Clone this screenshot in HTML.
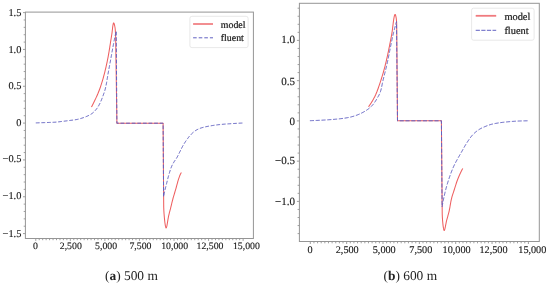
<!DOCTYPE html>
<html><head><meta charset="utf-8"><style>
html,body{margin:0;padding:0;background:#fff;width:550px;height:285px;overflow:hidden}
svg{display:block;filter:blur(0.3px)} text{font-family:"Liberation Serif",serif;text-rendering:geometricPrecision}
</style></head><body>
<svg width="550" height="285" viewBox="0 0 550 285">
<rect width="550" height="285" fill="#fff"/>
<clipPath id="ca"><rect x="25.4" y="12.1" width="228.0" height="226.4"/></clipPath>
<g clip-path="url(#ca)" fill="none" stroke-linejoin="round">
<path d="M91.40,107.10 L91.78,106.38 L92.16,105.66 L92.54,104.94 L92.91,104.22 L93.28,103.49 L93.65,102.77 L94.01,102.04 L94.37,101.31 L94.73,100.58 L95.08,99.85 L95.42,99.12 L95.77,98.39 L96.11,97.65 L96.44,96.91 L96.77,96.18 L97.10,95.44 L97.42,94.70 L97.73,93.95 L98.05,93.21 L98.35,92.47 L98.65,91.72 L98.95,90.97 L99.24,90.22 L99.53,89.47 L99.81,88.72 L100.08,87.97 L100.35,87.21 L100.61,86.46 L100.87,85.70 L101.12,84.94 L101.36,84.18 L101.61,83.42 L101.85,82.65 L102.08,81.89 L102.31,81.12 L102.54,80.35 L102.77,79.58 L102.99,78.80 L103.21,78.03 L103.43,77.25 L103.64,76.47 L103.85,75.69 L104.06,74.91 L104.27,74.12 L104.47,73.34 L104.67,72.56 L104.86,71.77 L105.06,70.98 L105.25,70.20 L105.44,69.41 L105.62,68.62 L105.81,67.83 L105.99,67.04 L106.17,66.25 L106.34,65.46 L106.52,64.67 L106.69,63.88 L106.86,63.09 L107.02,62.30 L107.19,61.52 L107.35,60.73 L107.51,59.94 L107.67,59.15 L107.83,58.36 L107.98,57.57 L108.13,56.78 L108.27,55.99 L108.42,55.19 L108.56,54.40 L108.70,53.61 L108.84,52.81 L108.97,52.02 L109.11,51.22 L109.24,50.43 L109.37,49.63 L109.50,48.83 L109.63,48.04 L109.75,47.24 L109.88,46.44 L110.01,45.64 L110.13,44.85 L110.26,44.05 L110.38,43.25 L110.51,42.45 L110.63,41.66 L110.76,40.86 L110.88,40.06 L111.01,39.26 L111.14,38.47 L111.26,37.67 L111.39,36.87 L111.52,36.08 L111.65,35.28 L111.78,34.46 L111.91,33.56 L112.04,32.59 L112.16,31.57 L112.29,30.52 L112.41,29.46 L112.53,28.41 L112.65,27.39 L112.78,26.43 L112.91,25.54 L113.04,24.75 L113.17,24.07 L113.31,23.53 L113.46,23.14 L113.61,22.93 L113.78,22.94 L113.97,23.28 L114.20,23.91 L114.44,24.75 L114.67,25.73 L114.88,26.76 L115.05,27.78 L115.17,28.71 L115.24,29.52 L115.30,30.31 L115.36,31.11 L115.42,31.91 L115.47,32.71 L115.51,33.51 L115.56,34.31 L115.59,35.12 L115.62,35.93 L115.65,36.74 L115.67,37.55 L115.69,38.36 L115.70,39.18 L115.70,40.00 L116.90,123.20 L163.10,123.20 L163.70,205.00 L163.70,205.82 L163.71,206.64 L163.73,207.46 L163.76,208.28 L163.79,209.10 L163.82,209.92 L163.86,210.73 L163.91,211.55 L163.96,212.36 L164.01,213.18 L164.07,213.99 L164.14,214.80 L164.20,215.61 L164.27,216.42 L164.34,217.23 L164.41,218.04 L164.49,218.85 L164.57,219.66 L164.65,220.49 L164.76,221.44 L164.88,222.47 L165.03,223.53 L165.19,224.58 L165.36,225.57 L165.54,226.44 L165.71,227.15 L165.89,227.65 L166.05,227.89 L166.21,227.85 L166.37,227.61 L166.53,227.20 L166.70,226.64 L166.86,225.95 L167.02,225.14 L167.19,224.24 L167.35,223.27 L167.52,222.25 L167.69,221.20 L167.86,220.14 L168.03,219.08 L168.21,218.06 L168.39,217.09 L168.57,216.18 L168.76,215.36 L168.95,214.57 L169.14,213.78 L169.34,212.99 L169.55,212.20 L169.76,211.41 L169.96,210.62 L170.17,209.83 L170.38,209.05 L170.58,208.26 L170.78,207.46 L170.98,206.67 L171.17,205.88 L171.36,205.09 L171.55,204.29 L171.73,203.50 L171.92,202.71 L172.12,201.91 L172.31,201.12 L172.51,200.33 L172.72,199.54 L172.93,198.76 L173.15,197.97 L173.37,197.19 L173.60,196.40 L173.83,195.62 L174.06,194.84 L174.29,194.06 L174.53,193.27 L174.76,192.49 L174.99,191.71 L175.23,190.93 L175.46,190.15 L175.68,189.36 L175.91,188.58 L176.13,187.79 L176.34,187.00 L176.56,186.21 L176.77,185.42 L176.98,184.63 L177.19,183.84 L177.41,183.05 L177.63,182.26 L177.85,181.47 L178.08,180.69 L178.32,179.91 L178.56,179.13 L178.81,178.36 L179.08,177.59 L179.35,176.83 L179.63,176.07 L179.94,175.32 L180.28,174.58 L180.64,173.85 L181.02,173.12 L181.40,172.40" stroke="#ee5f60" stroke-width="1.05"/>
<path d="M35.80,122.90 L36.60,122.88 L37.41,122.85 L38.21,122.83 L39.02,122.80 L39.82,122.78 L40.63,122.75 L41.43,122.72 L42.24,122.70 L43.04,122.67 L43.85,122.64 L44.65,122.61 L45.46,122.58 L46.26,122.56 L47.07,122.53 L47.87,122.50 L48.68,122.48 L49.48,122.45 L50.29,122.42 L51.09,122.39 L51.90,122.36 L52.70,122.32 L53.50,122.28 L54.31,122.24 L55.11,122.19 L55.91,122.14 L56.71,122.06 L57.51,121.98 L58.31,121.89 L59.11,121.80 L59.91,121.70 L60.71,121.59 L61.51,121.49 L62.31,121.40 L63.11,121.30 L63.91,121.21 L64.71,121.11 L65.51,121.01 L66.31,120.91 L67.11,120.81 L67.91,120.71 L68.71,120.60 L69.50,120.50 L70.30,120.40 L71.10,120.30 L71.91,120.20 L72.71,120.11 L73.51,120.00 L74.31,119.90 L75.10,119.78 L75.90,119.66 L76.69,119.52 L77.47,119.37 L78.25,119.19 L79.04,119.00 L79.82,118.78 L80.59,118.56 L81.37,118.32 L82.13,118.07 L82.90,117.81 L83.66,117.55 L84.42,117.29 L85.17,117.01 L85.92,116.71 L86.67,116.40 L87.41,116.07 L88.14,115.73 L88.86,115.37 L89.57,115.01 L90.28,114.62 L90.98,114.20 L91.66,113.76 L92.30,113.30 L92.92,112.80 L93.53,112.27 L94.11,111.71 L94.69,111.13 L95.24,110.52 L95.77,109.91 L96.28,109.29 L96.76,108.66 L97.22,108.01 L97.67,107.34 L98.11,106.66 L98.53,105.96 L98.93,105.25 L99.31,104.54 L99.68,103.83 L100.04,103.11 L100.38,102.39 L100.71,101.66 L101.04,100.92 L101.35,100.17 L101.65,99.42 L101.95,98.67 L102.24,97.92 L102.52,97.16 L102.80,96.41 L103.07,95.65 L103.35,94.89 L103.62,94.13 L103.89,93.37 L104.15,92.61 L104.40,91.84 L104.65,91.07 L104.88,90.30 L105.11,89.53 L105.31,88.75 L105.51,87.97 L105.69,87.19 L105.86,86.41 L106.02,85.63 L106.18,84.84 L106.33,84.05 L106.48,83.26 L106.62,82.47 L106.76,81.67 L106.89,80.88 L107.02,80.08 L107.15,79.28 L107.28,78.49 L107.41,77.69 L107.54,76.89 L107.67,76.10 L107.80,75.30 L107.93,74.50 L108.07,73.71 L108.22,72.92 L108.36,72.13 L108.50,71.33 L108.65,70.54 L108.80,69.75 L108.94,68.96 L109.09,68.17 L109.23,67.37 L109.38,66.58 L109.53,65.79 L109.67,65.00 L109.82,64.21 L109.97,63.42 L110.11,62.62 L110.26,61.83 L110.41,61.04 L110.55,60.25 L110.70,59.46 L110.85,58.67 L110.99,57.87 L111.13,57.08 L111.28,56.29 L111.42,55.50 L111.56,54.70 L111.71,53.91 L111.85,53.12 L111.99,52.33 L112.14,51.53 L112.28,50.74 L112.42,49.95 L112.57,49.16 L112.71,48.37 L112.86,47.57 L113.00,46.78 L113.15,45.99 L113.30,45.20 L113.45,44.41 L113.60,43.62 L113.75,42.83 L113.90,42.03 L114.05,41.24 L114.21,40.45 L114.37,39.67 L114.53,38.88 L114.69,38.09 L114.85,37.30 L115.01,36.51 L115.18,35.72 L115.35,34.93 L115.52,34.15 L115.69,33.36 L115.86,32.57 L116.03,31.79 L116.20,31.00 L116.90,123.20 L163.10,123.20 L163.60,196.80 L163.73,196.00 L163.87,195.21 L164.02,194.42 L164.17,193.62 L164.33,192.83 L164.50,192.04 L164.67,191.26 L164.85,190.47 L165.04,189.69 L165.24,188.90 L165.44,188.12 L165.63,187.34 L165.83,186.56 L166.03,185.78 L166.23,184.99 L166.42,184.21 L166.61,183.43 L166.80,182.64 L167.00,181.86 L167.19,181.07 L167.39,180.29 L167.58,179.51 L167.78,178.73 L167.99,177.95 L168.19,177.17 L168.41,176.39 L168.62,175.61 L168.85,174.84 L169.07,174.06 L169.30,173.29 L169.53,172.51 L169.76,171.73 L170.00,170.96 L170.25,170.18 L170.50,169.42 L170.77,168.65 L171.04,167.90 L171.33,167.15 L171.63,166.41 L171.94,165.67 L172.29,164.95 L172.66,164.24 L173.06,163.53 L173.47,162.83 L173.89,162.13 L174.32,161.45 L174.75,160.77 L175.22,160.11 L175.70,159.46 L176.17,158.80 L176.60,158.13 L177.01,157.43 L177.39,156.73 L177.76,156.01 L178.13,155.29 L178.48,154.56 L178.84,153.84 L179.19,153.11 L179.55,152.39 L179.92,151.67 L180.28,150.94 L180.64,150.22 L180.99,149.49 L181.35,148.77 L181.71,148.05 L182.07,147.33 L182.45,146.62 L182.84,145.91 L183.24,145.21 L183.65,144.52 L184.07,143.83 L184.49,143.14 L184.93,142.46 L185.37,141.78 L185.82,141.11 L186.28,140.45 L186.75,139.79 L187.22,139.14 L187.69,138.48 L188.18,137.83 L188.67,137.18 L189.17,136.55 L189.69,135.93 L190.22,135.32 L190.76,134.74 L191.32,134.17 L191.90,133.60 L192.49,133.03 L193.09,132.48 L193.72,131.95 L194.35,131.44 L195.00,130.96 L195.66,130.51 L196.33,130.10 L197.03,129.71 L197.75,129.34 L198.48,128.99 L199.23,128.66 L199.99,128.36 L200.75,128.08 L201.50,127.84 L202.27,127.61 L203.05,127.40 L203.83,127.20 L204.62,127.01 L205.41,126.83 L206.20,126.66 L207.00,126.50 L207.79,126.35 L208.59,126.20 L209.38,126.06 L210.17,125.92 L210.97,125.79 L211.76,125.66 L212.56,125.53 L213.36,125.40 L214.16,125.29 L214.96,125.17 L215.76,125.06 L216.56,124.95 L217.36,124.85 L218.16,124.75 L218.96,124.66 L219.76,124.58 L220.56,124.49 L221.37,124.42 L222.17,124.34 L222.97,124.27 L223.77,124.20 L224.58,124.14 L225.38,124.07 L226.19,124.01 L226.99,123.95 L227.80,123.90 L228.60,123.84 L229.41,123.79 L230.21,123.73 L231.02,123.68 L231.82,123.63 L232.63,123.58 L233.43,123.53 L234.24,123.48 L235.04,123.43 L235.85,123.38 L236.65,123.33 L237.46,123.29 L238.27,123.24 L239.07,123.20 L239.88,123.16 L240.68,123.12 L241.49,123.08 L242.29,123.04 L243.10,123.00" stroke="#6262c2" stroke-width="1.0" stroke-dasharray="3.8 1.8"/>
</g>
<rect x="25.4" y="12.1" width="228.0" height="226.4" fill="none" stroke="#959595" stroke-width="1"/>
<path d="M35.77,238.5 v2.4 M39.23,238.5 v1.7 M42.68,238.5 v1.7 M46.14,238.5 v1.7 M49.59,238.5 v1.7 M53.05,238.5 v1.7 M56.51,238.5 v1.7 M59.96,238.5 v1.7 M63.42,238.5 v1.7 M66.87,238.5 v1.7 M70.33,238.5 v2.4 M73.79,238.5 v1.7 M77.24,238.5 v1.7 M80.70,238.5 v1.7 M84.15,238.5 v1.7 M87.61,238.5 v1.7 M91.07,238.5 v1.7 M94.52,238.5 v1.7 M97.98,238.5 v1.7 M101.43,238.5 v1.7 M104.89,238.5 v2.4 M108.35,238.5 v1.7 M111.80,238.5 v1.7 M115.26,238.5 v1.7 M118.71,238.5 v1.7 M122.17,238.5 v1.7 M125.63,238.5 v1.7 M129.08,238.5 v1.7 M132.54,238.5 v1.7 M135.99,238.5 v1.7 M139.45,238.5 v2.4 M142.91,238.5 v1.7 M146.36,238.5 v1.7 M149.82,238.5 v1.7 M153.27,238.5 v1.7 M156.73,238.5 v1.7 M160.19,238.5 v1.7 M163.64,238.5 v1.7 M167.10,238.5 v1.7 M170.55,238.5 v1.7 M174.01,238.5 v2.4 M177.47,238.5 v1.7 M180.92,238.5 v1.7 M184.38,238.5 v1.7 M187.83,238.5 v1.7 M191.29,238.5 v1.7 M194.75,238.5 v1.7 M198.20,238.5 v1.7 M201.66,238.5 v1.7 M205.11,238.5 v1.7 M208.57,238.5 v2.4 M212.03,238.5 v1.7 M215.48,238.5 v1.7 M218.94,238.5 v1.7 M222.39,238.5 v1.7 M225.85,238.5 v1.7 M229.31,238.5 v1.7 M232.76,238.5 v1.7 M236.22,238.5 v1.7 M239.67,238.5 v1.7 M243.13,238.5 v2.4 M25.4,233.57 h-2.4 M25.4,226.21 h-1.7 M25.4,218.84 h-1.7 M25.4,211.48 h-1.7 M25.4,204.12 h-1.7 M25.4,196.75 h-2.4 M25.4,189.38 h-1.7 M25.4,182.02 h-1.7 M25.4,174.66 h-1.7 M25.4,167.29 h-1.7 M25.4,159.93 h-2.4 M25.4,152.56 h-1.7 M25.4,145.19 h-1.7 M25.4,137.83 h-1.7 M25.4,130.47 h-1.7 M25.4,123.10 h-2.4 M25.4,115.73 h-1.7 M25.4,108.37 h-1.7 M25.4,101.00 h-1.7 M25.4,93.64 h-1.7 M25.4,86.27 h-2.4 M25.4,78.91 h-1.7 M25.4,71.54 h-1.7 M25.4,64.18 h-1.7 M25.4,56.81 h-1.7 M25.4,49.45 h-2.4 M25.4,42.08 h-1.7 M25.4,34.72 h-1.7 M25.4,27.35 h-1.7 M25.4,19.99 h-1.7 M25.4,12.62 h-2.4" stroke="#959595" stroke-width="0.9" fill="none"/>
<g font-size="9.8" fill="#1a1a1a" stroke="#1a1a1a" stroke-width="0.14">
<text x="35.35" y="249.4" text-anchor="middle">0</text>
<text x="70.80" y="249.4" text-anchor="middle">2,500</text>
<text x="106.10" y="249.4" text-anchor="middle">5,000</text>
<text x="140.50" y="249.4" text-anchor="middle">7,500</text>
<text x="174.70" y="249.4" text-anchor="middle">10,000</text>
<text x="210.00" y="249.4" text-anchor="middle">12,500</text>
<text x="246.40" y="249.4" text-anchor="middle">15,000</text>
</g>
<g font-size="10.4" fill="#1a1a1a" stroke="#1a1a1a" stroke-width="0.14">
<text x="21.4" y="15.80" text-anchor="end">1.5</text>
<text x="21.4" y="52.50" text-anchor="end">1.0</text>
<text x="21.4" y="89.20" text-anchor="end">0.5</text>
<text x="21.4" y="125.80" text-anchor="end">0</text>
<text x="21.4" y="161.90" text-anchor="end">−0.5</text>
<text x="21.4" y="199.00" text-anchor="end">−1.0</text>
<text x="21.4" y="237.40" text-anchor="end">−1.5</text>
</g>
<rect x="189.9" y="16.3" width="58.19999999999999" height="31.3" rx="2" fill="#fff" fill-opacity="0.8" stroke="#e2e2e2" stroke-width="0.8"/>
<path d="M193.1,24 H213" stroke="#f07a7e" stroke-width="1.7"/>
<path d="M193.1,37.8 H213" stroke="#6262c2" stroke-width="1.0" stroke-dasharray="3.6 2.0"/>
<g font-size="9.9" fill="#1a1a1a" stroke="#1a1a1a" stroke-width="0.22">
<text x="220.8" y="27.5">model</text>
<text x="220.8" y="41.1">fluent</text>
</g>
<clipPath id="cb"><rect x="299.4" y="3.3" width="239.89999999999998" height="238.2"/></clipPath>
<g clip-path="url(#cb)" fill="none" stroke-linejoin="round">
<path d="M368.50,106.80 L368.98,106.14 L369.45,105.47 L369.92,104.80 L370.38,104.12 L370.83,103.44 L371.27,102.76 L371.71,102.07 L372.13,101.38 L372.55,100.69 L372.96,99.99 L373.36,99.28 L373.74,98.58 L374.12,97.87 L374.49,97.15 L374.85,96.44 L375.20,95.72 L375.54,94.99 L375.86,94.26 L376.18,93.52 L376.49,92.78 L376.80,92.03 L377.09,91.27 L377.38,90.52 L377.67,89.76 L377.95,88.99 L378.22,88.23 L378.49,87.46 L378.76,86.69 L379.02,85.92 L379.28,85.15 L379.54,84.38 L379.80,83.61 L380.05,82.85 L380.30,82.08 L380.56,81.31 L380.81,80.54 L381.06,79.77 L381.30,79.00 L381.55,78.23 L381.79,77.46 L382.03,76.68 L382.27,75.91 L382.50,75.13 L382.73,74.36 L382.96,73.58 L383.19,72.80 L383.42,72.02 L383.64,71.25 L383.86,70.47 L384.07,69.69 L384.28,68.90 L384.49,68.12 L384.70,67.34 L384.91,66.56 L385.11,65.78 L385.30,64.99 L385.50,64.21 L385.69,63.42 L385.88,62.64 L386.06,61.85 L386.25,61.07 L386.43,60.28 L386.62,59.49 L386.80,58.70 L386.97,57.91 L387.15,57.13 L387.33,56.34 L387.50,55.54 L387.67,54.75 L387.84,53.96 L388.01,53.17 L388.18,52.38 L388.34,51.59 L388.51,50.79 L388.67,50.00 L388.83,49.21 L388.99,48.41 L389.15,47.62 L389.31,46.82 L389.47,46.03 L389.63,45.23 L389.79,44.44 L389.94,43.65 L390.10,42.85 L390.25,42.06 L390.40,41.26 L390.56,40.46 L390.71,39.67 L390.86,38.87 L391.01,38.08 L391.17,37.28 L391.32,36.49 L391.47,35.69 L391.62,34.90 L391.77,34.07 L391.91,33.18 L392.05,32.25 L392.19,31.28 L392.33,30.27 L392.46,29.24 L392.59,28.19 L392.72,27.14 L392.85,26.07 L392.98,25.01 L393.11,23.97 L393.24,22.93 L393.37,21.93 L393.50,20.96 L393.63,20.02 L393.76,19.14 L393.89,18.30 L394.03,17.53 L394.17,16.82 L394.31,16.20 L394.46,15.65 L394.61,15.19 L394.76,14.83 L394.92,14.58 L395.08,14.43 L395.25,14.42 L395.46,14.81 L395.69,15.56 L395.92,16.53 L396.12,17.57 L396.27,18.53 L396.36,19.34 L396.44,20.14 L396.51,20.94 L396.57,21.75 L396.63,22.55 L396.67,23.37 L396.69,24.18 L396.70,25.00 L397.50,120.80 L441.40,120.80 L442.20,212.00 L442.20,212.82 L442.22,213.64 L442.24,214.46 L442.27,215.27 L442.30,216.09 L442.34,216.90 L442.39,217.71 L442.44,218.52 L442.50,219.33 L442.56,220.14 L442.62,220.95 L442.69,221.75 L442.77,222.56 L442.84,223.36 L442.92,224.17 L443.02,225.09 L443.15,226.11 L443.30,227.17 L443.47,228.20 L443.66,229.11 L443.84,229.85 L444.03,230.33 L444.21,230.50 L444.38,230.36 L444.56,230.00 L444.75,229.43 L444.93,228.71 L445.12,227.85 L445.32,226.90 L445.51,225.88 L445.71,224.84 L445.91,223.79 L446.11,222.78 L446.30,221.83 L446.50,220.98 L446.71,220.20 L446.92,219.41 L447.13,218.63 L447.35,217.84 L447.57,217.06 L447.79,216.28 L448.00,215.49 L448.22,214.71 L448.43,213.93 L448.64,213.14 L448.84,212.35 L449.03,211.56 L449.21,210.77 L449.38,209.98 L449.53,209.18 L449.69,208.38 L449.83,207.58 L449.97,206.78 L450.11,205.98 L450.24,205.18 L450.38,204.37 L450.51,203.57 L450.66,202.77 L450.80,201.97 L450.95,201.17 L451.12,200.38 L451.29,199.59 L451.47,198.80 L451.67,198.01 L451.88,197.23 L452.10,196.45 L452.34,195.67 L452.58,194.90 L452.82,194.12 L453.07,193.35 L453.33,192.57 L453.59,191.80 L453.84,191.03 L454.10,190.25 L454.35,189.48 L454.59,188.70 L454.84,187.93 L455.08,187.15 L455.31,186.37 L455.55,185.59 L455.80,184.82 L456.04,184.04 L456.29,183.27 L456.54,182.49 L456.80,181.72 L457.07,180.96 L457.35,180.20 L457.64,179.44 L457.93,178.69 L458.24,177.94 L458.55,177.19 L458.86,176.45 L459.19,175.70 L459.52,174.96 L459.86,174.22 L460.20,173.48 L460.55,172.75 L460.91,172.02 L461.28,171.29 L461.65,170.56 L462.03,169.84 L462.41,169.12 L462.80,168.40" stroke="#ee5f60" stroke-width="1.05"/>
<path d="M309.90,120.70 L310.70,120.68 L311.51,120.65 L312.31,120.62 L313.12,120.59 L313.92,120.56 L314.73,120.53 L315.53,120.49 L316.34,120.46 L317.14,120.42 L317.94,120.38 L318.75,120.34 L319.55,120.30 L320.36,120.26 L321.16,120.22 L321.96,120.17 L322.77,120.13 L323.57,120.08 L324.37,120.04 L325.18,119.99 L325.98,119.94 L326.78,119.89 L327.59,119.84 L328.39,119.78 L329.19,119.73 L330.00,119.67 L330.80,119.61 L331.60,119.55 L332.41,119.48 L333.21,119.42 L334.01,119.35 L334.81,119.28 L335.61,119.20 L336.41,119.13 L337.22,119.05 L338.02,118.97 L338.82,118.88 L339.62,118.80 L340.42,118.71 L341.22,118.61 L342.02,118.51 L342.82,118.41 L343.62,118.30 L344.42,118.19 L345.21,118.07 L346.01,117.94 L346.80,117.81 L347.59,117.67 L348.38,117.53 L349.17,117.37 L349.95,117.20 L350.74,117.01 L351.52,116.81 L352.30,116.60 L353.08,116.39 L353.85,116.16 L354.62,115.92 L355.38,115.68 L356.14,115.41 L356.90,115.13 L357.65,114.84 L358.39,114.53 L359.14,114.21 L359.87,113.88 L360.60,113.54 L361.32,113.19 L362.04,112.83 L362.76,112.46 L363.47,112.08 L364.18,111.68 L364.88,111.28 L365.58,110.86 L366.26,110.42 L366.92,109.98 L367.57,109.52 L368.21,109.05 L368.85,108.55 L369.48,108.04 L370.10,107.51 L370.70,106.96 L371.30,106.41 L371.87,105.83 L372.41,105.25 L372.94,104.66 L373.44,104.04 L373.92,103.41 L374.39,102.76 L374.85,102.09 L375.29,101.41 L375.72,100.72 L376.15,100.02 L376.56,99.33 L376.97,98.63 L377.37,97.94 L377.78,97.24 L378.18,96.53 L378.58,95.82 L378.97,95.11 L379.34,94.39 L379.68,93.66 L380.00,92.93 L380.27,92.18 L380.52,91.43 L380.74,90.67 L380.95,89.91 L381.15,89.13 L381.34,88.35 L381.52,87.57 L381.69,86.78 L381.85,85.98 L382.01,85.19 L382.17,84.39 L382.33,83.59 L382.49,82.80 L382.65,82.00 L382.82,81.21 L383.00,80.42 L383.19,79.64 L383.38,78.86 L383.57,78.08 L383.76,77.30 L383.96,76.51 L384.15,75.73 L384.35,74.95 L384.55,74.17 L384.74,73.39 L384.94,72.61 L385.14,71.83 L385.34,71.05 L385.53,70.27 L385.73,69.49 L385.92,68.71 L386.11,67.93 L386.30,67.14 L386.49,66.36 L386.67,65.58 L386.85,64.79 L387.02,64.01 L387.20,63.22 L387.37,62.44 L387.54,61.65 L387.71,60.86 L387.87,60.07 L388.04,59.29 L388.20,58.50 L388.36,57.71 L388.52,56.92 L388.68,56.13 L388.84,55.34 L388.99,54.55 L389.15,53.76 L389.31,52.97 L389.46,52.18 L389.62,51.39 L389.77,50.60 L389.92,49.81 L390.08,49.02 L390.23,48.23 L390.39,47.44 L390.55,46.65 L390.70,45.86 L390.86,45.07 L391.02,44.28 L391.18,43.49 L391.34,42.70 L391.50,41.91 L391.66,41.13 L391.83,40.34 L391.99,39.55 L392.16,38.76 L392.33,37.98 L392.51,37.19 L392.68,36.41 L392.86,35.62 L393.04,34.84 L393.22,34.05 L393.41,33.27 L393.60,32.49 L393.79,31.71 L393.99,30.93 L394.18,30.15 L394.38,29.37 L394.58,28.59 L394.79,27.81 L394.99,27.03 L395.20,26.25 L395.41,25.47 L395.62,24.70 L395.84,23.92 L396.06,23.15 L396.28,22.37 L396.50,21.60 L397.50,120.80 L441.40,120.80 L442.10,206.90 L442.23,206.10 L442.37,205.31 L442.51,204.51 L442.65,203.72 L442.80,202.92 L442.94,202.13 L443.10,201.33 L443.25,200.54 L443.41,199.75 L443.57,198.96 L443.74,198.17 L443.90,197.38 L444.07,196.59 L444.25,195.80 L444.43,195.02 L444.61,194.23 L444.79,193.44 L444.98,192.66 L445.17,191.87 L445.36,191.08 L445.56,190.30 L445.76,189.52 L445.96,188.74 L446.17,187.96 L446.38,187.18 L446.60,186.40 L446.82,185.63 L447.04,184.85 L447.27,184.08 L447.50,183.31 L447.74,182.54 L447.98,181.76 L448.22,180.99 L448.47,180.22 L448.72,179.45 L448.97,178.68 L449.23,177.92 L449.49,177.15 L449.76,176.39 L450.03,175.62 L450.30,174.86 L450.58,174.10 L450.86,173.34 L451.15,172.58 L451.44,171.83 L451.73,171.08 L452.03,170.33 L452.33,169.58 L452.64,168.84 L452.95,168.10 L453.26,167.36 L453.59,166.62 L453.92,165.89 L454.27,165.16 L454.62,164.44 L454.99,163.71 L455.36,163.00 L455.73,162.28 L456.11,161.56 L456.50,160.85 L456.88,160.14 L457.27,159.43 L457.65,158.72 L458.04,158.02 L458.44,157.31 L458.85,156.62 L459.26,155.92 L459.67,155.22 L460.08,154.53 L460.48,153.83 L460.89,153.13 L461.28,152.43 L461.68,151.72 L462.07,151.01 L462.47,150.31 L462.86,149.60 L463.25,148.89 L463.65,148.18 L464.04,147.48 L464.44,146.77 L464.84,146.07 L465.25,145.38 L465.67,144.69 L466.08,144.00 L466.51,143.32 L466.94,142.64 L467.39,141.97 L467.84,141.30 L468.29,140.63 L468.75,139.95 L469.21,139.28 L469.68,138.62 L470.16,137.95 L470.65,137.30 L471.15,136.66 L471.66,136.03 L472.18,135.42 L472.71,134.83 L473.25,134.25 L473.81,133.69 L474.40,133.14 L475.00,132.60 L475.61,132.07 L476.25,131.55 L476.89,131.05 L477.55,130.56 L478.21,130.09 L478.89,129.65 L479.56,129.22 L480.25,128.82 L480.96,128.43 L481.68,128.07 L482.41,127.71 L483.15,127.38 L483.90,127.05 L484.64,126.74 L485.39,126.44 L486.14,126.13 L486.89,125.83 L487.65,125.54 L488.41,125.26 L489.18,124.99 L489.95,124.74 L490.72,124.51 L491.49,124.29 L492.27,124.11 L493.05,123.94 L493.84,123.77 L494.62,123.62 L495.41,123.46 L496.21,123.32 L497.00,123.18 L497.80,123.05 L498.60,122.92 L499.40,122.80 L500.21,122.68 L501.01,122.57 L501.82,122.46 L502.62,122.36 L503.42,122.27 L504.23,122.18 L505.03,122.09 L505.83,122.01 L506.64,121.93 L507.44,121.85 L508.24,121.77 L509.05,121.70 L509.85,121.63 L510.65,121.56 L511.46,121.49 L512.27,121.42 L513.07,121.36 L513.88,121.30 L514.68,121.25 L515.49,121.20 L516.30,121.15 L517.10,121.11 L517.91,121.07 L518.72,121.03 L519.52,121.00 L520.33,120.98 L521.13,120.95 L521.94,120.92 L522.75,120.90 L523.56,120.88 L524.36,120.86 L525.17,120.84 L525.98,120.83 L526.78,120.81 L527.59,120.80 L528.40,120.80" stroke="#6262c2" stroke-width="1.0" stroke-dasharray="4.1 1.7"/>
</g>
<rect x="299.4" y="3.3" width="239.89999999999998" height="238.2" fill="none" stroke="#959595" stroke-width="1"/>
<path d="M310.30,241.5 v2.5 M313.94,241.5 v1.8 M317.57,241.5 v1.8 M321.20,241.5 v1.8 M324.84,241.5 v1.8 M328.48,241.5 v1.8 M332.11,241.5 v1.8 M335.75,241.5 v1.8 M339.38,241.5 v1.8 M343.01,241.5 v1.8 M346.65,241.5 v2.5 M350.29,241.5 v1.8 M353.92,241.5 v1.8 M357.56,241.5 v1.8 M361.19,241.5 v1.8 M364.83,241.5 v1.8 M368.46,241.5 v1.8 M372.10,241.5 v1.8 M375.73,241.5 v1.8 M379.37,241.5 v1.8 M383.00,241.5 v2.5 M386.63,241.5 v1.8 M390.27,241.5 v1.8 M393.90,241.5 v1.8 M397.54,241.5 v1.8 M401.18,241.5 v1.8 M404.81,241.5 v1.8 M408.45,241.5 v1.8 M412.08,241.5 v1.8 M415.72,241.5 v1.8 M419.35,241.5 v2.5 M422.99,241.5 v1.8 M426.62,241.5 v1.8 M430.25,241.5 v1.8 M433.89,241.5 v1.8 M437.53,241.5 v1.8 M441.16,241.5 v1.8 M444.80,241.5 v1.8 M448.43,241.5 v1.8 M452.07,241.5 v1.8 M455.70,241.5 v2.5 M459.34,241.5 v1.8 M462.97,241.5 v1.8 M466.61,241.5 v1.8 M470.24,241.5 v1.8 M473.88,241.5 v1.8 M477.51,241.5 v1.8 M481.15,241.5 v1.8 M484.78,241.5 v1.8 M488.42,241.5 v1.8 M492.05,241.5 v2.5 M495.69,241.5 v1.8 M499.32,241.5 v1.8 M502.96,241.5 v1.8 M506.59,241.5 v1.8 M510.23,241.5 v1.8 M513.86,241.5 v1.8 M517.50,241.5 v1.8 M521.13,241.5 v1.8 M524.77,241.5 v1.8 M528.40,241.5 v2.5 M299.4,233.60 h-1.8 M299.4,225.55 h-1.8 M299.4,217.50 h-1.8 M299.4,209.45 h-1.8 M299.4,201.40 h-2.5 M299.4,193.35 h-1.8 M299.4,185.30 h-1.8 M299.4,177.25 h-1.8 M299.4,169.20 h-1.8 M299.4,161.15 h-2.5 M299.4,153.10 h-1.8 M299.4,145.05 h-1.8 M299.4,137.00 h-1.8 M299.4,128.95 h-1.8 M299.4,120.90 h-2.5 M299.4,112.85 h-1.8 M299.4,104.80 h-1.8 M299.4,96.75 h-1.8 M299.4,88.70 h-1.8 M299.4,80.65 h-2.5 M299.4,72.60 h-1.8 M299.4,64.55 h-1.8 M299.4,56.50 h-1.8 M299.4,48.45 h-1.8 M299.4,40.40 h-2.5 M299.4,32.35 h-1.8 M299.4,24.30 h-1.8 M299.4,16.25 h-1.8 M299.4,8.20 h-1.8" stroke="#959595" stroke-width="0.9" fill="none"/>
<g font-size="10.2" fill="#1a1a1a" stroke="#1a1a1a" stroke-width="0.14">
<text x="310.10" y="252.6" text-anchor="middle">0</text>
<text x="347.20" y="252.6" text-anchor="middle">2,500</text>
<text x="384.20" y="252.6" text-anchor="middle">5,000</text>
<text x="420.80" y="252.6" text-anchor="middle">7,500</text>
<text x="456.60" y="252.6" text-anchor="middle">10,000</text>
<text x="493.50" y="252.6" text-anchor="middle">12,500</text>
<text x="532.30" y="252.6" text-anchor="middle">15,000</text>
</g>
<g font-size="11.0" fill="#1a1a1a" stroke="#1a1a1a" stroke-width="0.14">
<text x="295.0" y="43.30" text-anchor="end">1.0</text>
<text x="295.0" y="84.60" text-anchor="end">0.5</text>
<text x="295.0" y="124.60" text-anchor="end">0</text>
<text x="295.0" y="164.45" text-anchor="end">−0.5</text>
<text x="295.0" y="205.20" text-anchor="end">−1.0</text>
</g>
<rect x="471.6" y="8.2" width="62.5" height="32.0" rx="2" fill="#fff" fill-opacity="0.8" stroke="#e2e2e2" stroke-width="0.8"/>
<path d="M475.7,15.8 H496.2" stroke="#f07a7e" stroke-width="1.8"/>
<path d="M475.7,30.3 H496.2" stroke="#6262c2" stroke-width="1.0" stroke-dasharray="4.2 1.4"/>
<g font-size="10.4" fill="#1a1a1a" stroke="#1a1a1a" stroke-width="0.22">
<text x="504.4" y="19.5">model</text>
<text x="504.4" y="34.0">fluent</text>
</g>
<g font-size="13.4" fill="#222">
<text x="105.0" y="280.2">(<tspan font-weight="bold">a</tspan>) 500 m</text>
<text x="383.5" y="280.2">(<tspan font-weight="bold">b</tspan>) 600 m</text>
</g>
</svg>
</body></html>
